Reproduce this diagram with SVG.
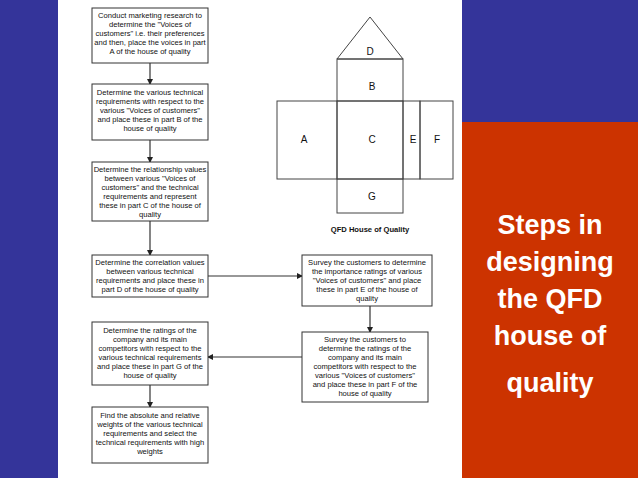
<svg xmlns="http://www.w3.org/2000/svg" width="638" height="478" viewBox="0 0 638 478">
<style>
.b{fill:#fff;stroke:#333;stroke-width:1}
.t{font-family:"Liberation Sans",Arial,sans-serif;font-size:7.6px;fill:#111;text-anchor:middle}
.h{font-family:"Liberation Sans",Arial,sans-serif;font-size:10px;fill:#111;text-anchor:middle}
.c{stroke:#333;stroke-width:1.2;fill:none;marker-end:url(#a)}
.s{font-family:"Liberation Sans",Arial,sans-serif;font-size:27px;font-weight:bold;fill:#fff;text-anchor:middle}
</style>
<defs><marker id="a" markerWidth="6" markerHeight="6" refX="5" refY="3" orient="auto" markerUnits="userSpaceOnUse"><path d="M0,0L6,3L0,6z" fill="#222"/></marker></defs>
<rect width="638" height="478" fill="#fff"/>
<rect x="0" y="0" width="58" height="478" fill="#34349a"/>
<rect x="462" y="0" width="176" height="122" fill="#34349a"/>
<rect x="462" y="122" width="176" height="356" fill="#cc3300"/>
<g id="title"><text class="s" x="550" y="234">Steps in</text><text class="s" x="550" y="271">designing</text><text class="s" x="550" y="308">the QFD</text><text class="s" x="550" y="345">house of</text><text class="s" x="550" y="392">quality</text></g>
<g id="house" fill="none" stroke="#444" stroke-width="1">
<path d="M337,59L370,17L403,59Z"/><rect x="337" y="59" width="66" height="42"/><rect x="277" y="101" width="60" height="78"/><rect x="337" y="101" width="66" height="78"/><rect x="403" y="101" width="17" height="78"/><rect x="420" y="101" width="33" height="78"/><rect x="337" y="179" width="66" height="34"/>
<g stroke="none"><text class="h" x="370" y="55">D</text><text class="h" x="372" y="90">B</text><text class="h" x="304" y="143">A</text><text class="h" x="372" y="143">C</text><text class="h" x="413" y="143">E</text><text class="h" x="437" y="143">F</text><text class="h" x="372" y="200">G</text>
<text class="t" x="370" y="232" font-weight="bold">QFD House of Quality</text></g></g>
<g id="connectors">
<path class="c" d="M150,63V84"/><path class="c" d="M150,140V162"/><path class="c" d="M150,221V255"/><path class="c" d="M150,385V407"/><path class="c" d="M208,276H302"/><path class="c" d="M370,306V332"/><path class="c" d="M302,357H208"/>
</g>
<g id="n1"><rect class="b" x="92" y="8" width="116" height="55"/><text class="t" x="150" y="18">Conduct marketing research to</text><text class="t" x="150" y="27">determine the "Voices of</text><text class="t" x="150" y="36">customers" i.e. their preferences</text><text class="t" x="150" y="45">and then, place the voices in part</text><text class="t" x="150" y="54">A of the house of quality</text></g>
<g id="n2"><rect class="b" x="92" y="84" width="116" height="56"/><text class="t" x="150" y="95">Determine the various technical</text><text class="t" x="150" y="104">requirements with respect to the</text><text class="t" x="150" y="113">various "Voices of customers"</text><text class="t" x="150" y="122">and place these in part B of the</text><text class="t" x="150" y="131">house of quality</text></g>
<g id="n3"><rect class="b" x="92" y="162" width="116" height="59"/><text class="t" x="150" y="172">Determine the relationship values</text><text class="t" x="150" y="181">between various "Voices of</text><text class="t" x="150" y="190">customers" and the technical</text><text class="t" x="150" y="199">requirements and represent</text><text class="t" x="150" y="208">these in part C of the house of</text><text class="t" x="150" y="217">quality</text></g>
<g id="n4"><rect class="b" x="92" y="255" width="116" height="42"/><text class="t" x="150" y="265">Determine the correlation values</text><text class="t" x="150" y="274">between various technical</text><text class="t" x="150" y="283">requirements and place these in</text><text class="t" x="150" y="292">part D of the house of quality</text></g>
<g id="n5"><rect class="b" x="92" y="322" width="116" height="63"/><text class="t" x="150" y="333">Determine the ratings of the</text><text class="t" x="150" y="342">company and its main</text><text class="t" x="150" y="351">competitors with respect to the</text><text class="t" x="150" y="360">various technical requirements</text><text class="t" x="150" y="369">and place these in part G of the</text><text class="t" x="150" y="378">house of quality</text></g>
<g id="n6"><rect class="b" x="92" y="407" width="116" height="56"/><text class="t" x="150" y="418">Find the absolute and relative</text><text class="t" x="150" y="427">weights of the various technical</text><text class="t" x="150" y="436">requirements and select the</text><text class="t" x="150" y="445">technical requirements with high</text><text class="t" x="150" y="454">weights</text></g>
<g id="n7"><rect class="b" x="302" y="255" width="130" height="51"/><text class="t" x="367" y="265">Survey the customers to determine</text><text class="t" x="367" y="274">the importance ratings of various</text><text class="t" x="367" y="283">"Voices of customers" and place</text><text class="t" x="367" y="292">these in part E of the house of</text><text class="t" x="367" y="301">quality</text></g>
<g id="n8"><rect class="b" x="302" y="332" width="126" height="70"/><text class="t" x="365" y="342">Survey the customers to</text><text class="t" x="365" y="351">determine the ratings of the</text><text class="t" x="365" y="360">company and its main</text><text class="t" x="365" y="369">competitors with respect to the</text><text class="t" x="365" y="378">various "Voices of customers"</text><text class="t" x="365" y="387">and place these in part F of the</text><text class="t" x="365" y="396">house of quality</text></g>
</svg>
